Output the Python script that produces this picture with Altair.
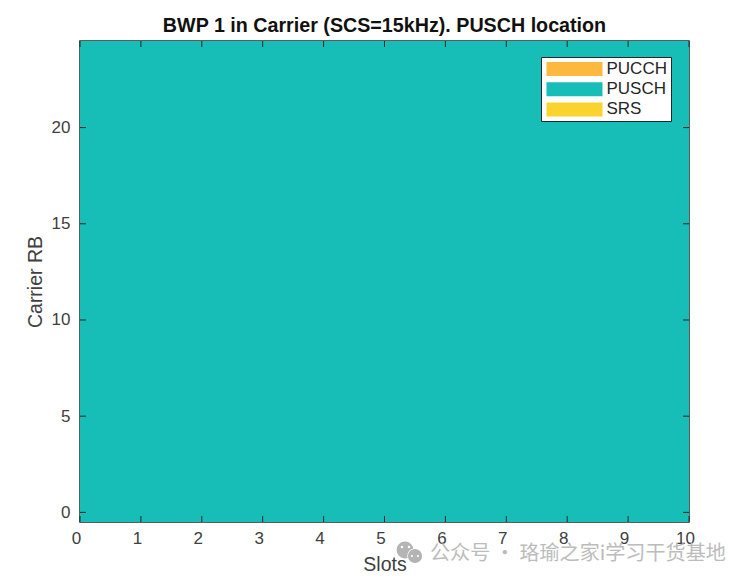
import altair as alt
import pandas as pd

FONT = "Liberation Sans"
CJK = "Noto Sans CJK SC"

series_names = ["PUCCH", "PUSCH", "SRS"]
series_colors = ["#FDB93F", "#17BEB8", "#FBD32F"]

# PUSCH fills the whole grid
slot_start = [0]
slot_end = [10]
rb_start = [-0.5]
rb_end = [24.5]
block_series = ["PUSCH"]

x_ticks = [0, 1, 2, 3, 4, 5, 6, 7, 8, 9, 10]
y_ticks = [0, 5, 10, 15, 20]

WIDTH = 609
HEIGHT = 481
TICK = 6

blocks = pd.DataFrame({
    "slot": slot_start, "slot2": slot_end,
    "rb": rb_start, "rb2": rb_end,
    "series": block_series,
})

x_scale = alt.Scale(domain=[0, 10], nice=False, zero=False)
y_scale = alt.Scale(domain=[-0.5, 24.5], nice=False, zero=False)

base_axis = dict(
    grid=False, ticks=False, domain=False,
    labelFont=FONT, labelFontSize=17, labelColor="#404040",
    titleFont=FONT, titleFontSize=19.5, titleColor="#404040", titleFontWeight="normal",
)
x_axis = alt.Axis(values=x_ticks, labelOffset=-4, labelPadding=8, titlePadding=9,
                  labelFlush=False, **base_axis)
y_axis = alt.Axis(values=y_ticks, labelPadding=10, titlePadding=6, **base_axis)

rect = alt.Chart(blocks).mark_rect().encode(
    x=alt.X("slot:Q", scale=x_scale, title="Slots", axis=x_axis),
    x2="slot2:Q",
    y=alt.Y("rb:Q", scale=y_scale, title="Carrier RB", axis=y_axis),
    y2="rb2:Q",
    color=alt.Color(
        "series:N",
        scale=alt.Scale(domain=series_names, range=series_colors),
        legend=alt.Legend(
            title=None, orient="none", legendX=461, legendY=16,
            symbolType="M-0.93,-1H7.07V1H-0.93Z", symbolSize=196, symbolStrokeWidth=0,
            symbolOpacity=1, labelFont=FONT, labelFontSize=17, labelColor="#262626",
            fillColor="white", strokeColor="#262626", padding=3.5, rowPadding=2.2,
            labelOffset=45, labelLimit=80,
        ),
    ),
)

x_tick_df = pd.DataFrame({"slot": x_ticks})
y_tick_df = pd.DataFrame({"rb": y_ticks})
tick_color = "#262626"


def x_tick_layer(start, end):
    return alt.Chart(x_tick_df).mark_rule(color=tick_color, strokeWidth=1).encode(
        x=alt.X("slot:Q", scale=x_scale, title="Slots", axis=x_axis),
        y=alt.value(start), y2=alt.value(end),
    )


def y_tick_layer(start, end):
    return alt.Chart(y_tick_df).mark_rule(color=tick_color, strokeWidth=1).encode(
        y=alt.Y("rb:Q", scale=y_scale, title="Carrier RB", axis=y_axis),
        x=alt.value(start), x2=alt.value(end),
    )


def dot(px, py, size, color):
    return alt.Chart(pd.DataFrame({"k": [1]})).mark_point(
        shape="circle", filled=True, size=size, color=color, opacity=1, clip=False,
    ).encode(x=alt.value(px), y=alt.value(py))


# watermark at the bottom right
mark_text = alt.Chart(pd.DataFrame({"t": ["公众号 · 珞瑜之家i学习干货基地"]})).mark_text(
    font=CJK, fontSize=20.1, color="#BCBCBC", align="left", baseline="middle", clip=False,
).encode(text="t:N", x=alt.value(350), y=alt.value(512.5))

GREY = "#B4B4B4"
icon = [
    dot(325, 509, 283, GREY),
    dot(335, 515, 240, "white"),
    dot(335, 515, 200, GREY),
    dot(322, 506, 6, "white"),
    dot(329, 506, 6, "white"),
    dot(332, 515, 5, "white"),
    dot(338, 515, 5, "white"),
]

chart = alt.layer(
    rect,
    x_tick_layer(HEIGHT, HEIGHT - TICK),
    x_tick_layer(0, TICK),
    y_tick_layer(0, TICK),
    y_tick_layer(WIDTH, WIDTH - TICK),
    *icon, mark_text,
).properties(
    width=WIDTH,
    height=HEIGHT,
    title=alt.TitleParams(
        "BWP 1 in Carrier (SCS=15kHz). PUSCH location",
        font=FONT, fontSize=19.7, fontWeight="bold", color="#111111", anchor="middle", offset=5,
    ),
    padding={"left": 72, "top": 33, "right": 53, "bottom": 53},
    autosize=alt.AutoSizeParams(type="none"),
).configure_view(stroke="#262626", strokeWidth=1.5)

chart.save("out.html", embed_options={"renderer": "svg", "actions": False})
